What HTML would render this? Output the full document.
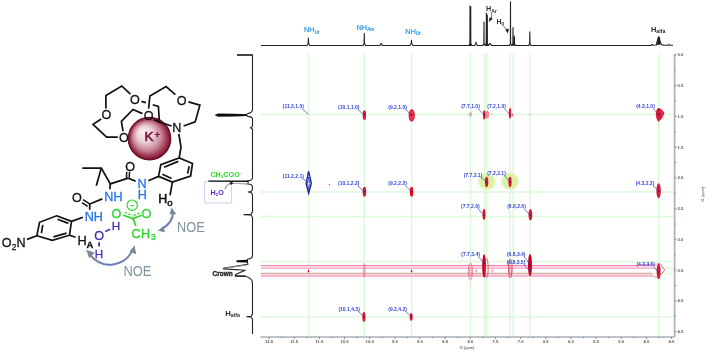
<!DOCTYPE html>
<html><head><meta charset="utf-8"><title>NOESY</title>
<style>
html,body{margin:0;padding:0;background:#fff;width:708px;height:350px;overflow:hidden}
svg{display:block}
text{font-family:"Liberation Sans", Arial, sans-serif}
</style></head><body>
<svg width="708" height="350" viewBox="0 0 708 350">
<defs>
<radialGradient id="kg" cx="0.5" cy="0.5" r="0.5" fx="0.33" fy="0.33">
<stop offset="0" stop-color="#faf2f3"/>
<stop offset="0.38" stop-color="#ecd0d8"/>
<stop offset="0.66" stop-color="#c9889c"/>
<stop offset="0.84" stop-color="#a4425c"/>
<stop offset="0.95" stop-color="#861c36"/>
<stop offset="1" stop-color="#6e0c24"/>
</radialGradient>
<radialGradient id="yg" cx="0.5" cy="0.5" r="0.5">
<stop offset="0" stop-color="#daf0a2"/>
<stop offset="0.8" stop-color="#dcf2a8"/>
<stop offset="1" stop-color="#e6f6c4"/>
</radialGradient>
</defs>
<rect width="708" height="350" fill="#fff"/>

<g stroke="#dcf9da" stroke-width="1.5" fill="none">
<line x1="308.6" y1="53.5" x2="308.6" y2="336.5"/>
<line x1="364.2" y1="53.5" x2="364.2" y2="336.5"/>
<line x1="411.6" y1="53.5" x2="411.6" y2="336.5"/>
<line x1="470.5" y1="53.5" x2="470.5" y2="336.5"/>
<line x1="484.5" y1="53.5" x2="484.5" y2="336.5"/>
<line x1="486.8" y1="53.5" x2="486.8" y2="336.5"/>
<line x1="509.9" y1="53.5" x2="509.9" y2="336.5"/>
<line x1="513.2" y1="53.5" x2="513.2" y2="336.5"/>
<line x1="530.0" y1="53.5" x2="530.0" y2="336.5"/>
<line x1="658.8" y1="53.5" x2="658.8" y2="336.5"/>
<line x1="260.5" y1="114.5" x2="673" y2="114.5"/>
<line x1="260.5" y1="192.0" x2="673" y2="192.0"/>
<line x1="260.5" y1="216.6" x2="673" y2="216.6"/>
<line x1="260.5" y1="261.4" x2="673" y2="261.4"/>
<line x1="260.5" y1="268.0" x2="673" y2="268.0"/>
<line x1="260.5" y1="273.6" x2="673" y2="273.6"/>
<line x1="260.5" y1="316.9" x2="673" y2="316.9"/>
</g>
<circle cx="486.8" cy="181.6" r="8.6" fill="url(#yg)"/>
<circle cx="510" cy="181.3" r="8.8" fill="url(#yg)"/>
<rect x="261" y="265.2" width="392" height="3.4" fill="#fbd6e4"/>
<rect x="261" y="273.2" width="392" height="3.1" fill="#fad8e4"/>
<g fill="none">
<path d="M261 265.5 H638 L641 264.7 H653 L656.5 265.5" stroke="#f784b0" stroke-width="1.2"/>
<path d="M656.5 264 L660 263.6 L664.7 270 L660 275.5 L657 276" stroke="#f05888" stroke-width="0.9"/>
<path d="M261 268.3 H652 L656 269" stroke="#f4a6c4" stroke-width="0.9"/>
<path d="M261 273.3 H652" stroke="#cfa09c" stroke-width="1"/>
<path d="M261 276.0 H652 L657 277.4" stroke="#f48cb2" stroke-width="1"/>
</g>
<path d="M261 45.5 L306.9 45.5 L308.1 43.5 L308.4 38.0 L308.7 43.5 L309.9 45.5 L363.0 45.5 L364.1 43.5 L364.3 33.5 L364.5 43.5 L365.6 45.5 L380.0 45.5 L381.0 43.5 L381.2 43.6 L381.4 43.5 L382.4 45.5 L410.0 45.5 L411.2 43.5 L411.5 40.3 L411.8 43.5 L413.0 45.5 L468.9 45.5 L469.9 43.5 L470.0 6.0 L470.1 43.5 L471.1 45.5 L469.6 45.5 L470.6 43.5 L470.7 6.5 L470.8 43.5 L471.8 45.5 L474.6 45.5 L475.8 43.5 L476.0 42.0 L476.2 43.5 L477.4 45.5 L482.9 45.5 L483.9 43.5 L484.0 22.0 L484.1 43.5 L485.1 45.5 L485.3 45.5 L486.2 43.5 L486.4 13.0 L486.5 43.5 L487.5 45.5 L486.2 45.5 L487.2 43.5 L487.3 15.0 L487.4 43.5 L488.4 45.5 L488.6 45.5 L489.8 43.5 L490.0 43.5 L490.2 43.5 L491.4 45.5 L509.4 45.5 L510.4 43.5 L510.5 1.7 L510.6 43.5 L511.6 45.5 L511.9 45.5 L512.9 43.5 L513.0 27.5 L513.1 43.5 L514.1 45.5 L513.3 45.5 L514.2 43.5 L514.4 36.0 L514.5 43.5 L515.5 45.5 L528.6 45.5 L529.6 43.5 L529.8 31.7 L530.0 43.5 L531.0 45.5 L651.2 45.4 L652.2 44.3 L653.1 45.2 L656.3 45.0 L657.4 40.5 L658.4 36.8 L659.3 37.2 L660.2 41.8 L661.4 44.6 L663.5 45.3 L668 45.2 L669.2 44.6 L670.2 45.3 L673 45.3" fill="none" stroke="#1e2024" stroke-width="1.1" stroke-linejoin="round"/>
<path d="M657.2 41.5 L658.4 36.8 L659.3 37.2 L660.0 41.5 L660.6 44.8 L657.0 44.8 Z" fill="#1e2024"/>
<rect x="204.5" y="181.2" width="26.9" height="21.8" fill="none" stroke="#c4c8e8" stroke-width="0.8"/>
<path d="M237.0 55.0 L252.5 55.0 L252.5 109 Q252.5 113 247.7 113.6 L246 114.6 L247.7 116.4 Q252.5 116.8 252.5 119 L252.5 126.4 L251.0 127.6 L250.3 127.8 L251.0 128.0 L252.5 129.2 L252.5 177.5 Q252.5 180.6 248 180.8 L248 181.2 L248 184 Q252.5 184.2 252.5 187 L252.5 189.5 L251.0 191.6 L248.2 192 L251.0 192.4 L252.5 194.5 L252.5 211.9 L251.0 214.2 L244.0 214.6 L251.0 215.0 L252.5 217.3 L252.5 255.8 Q252.5 258.8 247.4 259.3 L247.4 262.4 L248 264.3 L223.2 268.3 L223.4 268.9 L245.3 270.2 L235.5 274.5 L235.3 276.0 L245.5 276.3 Q250.6 277.8 252.2 281 L252.5 286 L252.5 314.2 L251.0 316.2 L247 316.6 L251.0 317.0 L252.5 319.0 L252.5 334" fill="none" stroke="#1e2024" stroke-width="1.1" stroke-linejoin="round"/>
<path d="M237 54.2 L252.6 54.3 L252.6 55.8 L237 55.7 Z" fill="#2a2c34"/>
<path d="M214.5 115.1 L218 113.6 L234 113.8 L247 114.3 L247 115.9 L234 116.4 L218 116.7 Z" fill="#0e0e10"/>
<path d="M208.3 180.4 L248.5 180.5 L248.5 181.9 L208.3 181.8 Z" fill="#141416"/>
<path d="M233 183.2 L248.3 183.6 L248.3 184.4 L233 183.8 Z" fill="#777c88"/>
<path d="M236.5 260.2 L247.5 259.8 L247.5 262.4 L236.5 262.2 Z" fill="#0e0e10"/>
<path d="M235.1 275.3 L245.5 275.6 L245.5 276.8 L235.1 276.6 Z" fill="#141416"/>
<path d="M223.2 267.9 L247 264.6 L247 265.6 L223.2 268.8 Z" fill="#8a909c"/>
<g stroke="#aab1bb" fill="none"><line x1="674.6" y1="53.7" x2="674.6" y2="337.0" stroke-width="1.7"/>
<line x1="260.5" y1="337.0" x2="674.6" y2="337.0" stroke-width="1.6"/></g>
<g stroke="#666" stroke-width="0.7">
<line x1="674.6" y1="54.9" x2="676.6" y2="54.9"/>
<line x1="674.6" y1="70.3" x2="675.8000000000001" y2="70.3"/>
<line x1="674.6" y1="85.7" x2="676.6" y2="85.7"/>
<line x1="674.6" y1="101.0" x2="675.8000000000001" y2="101.0"/>
<line x1="674.6" y1="116.4" x2="676.6" y2="116.4"/>
<line x1="674.6" y1="131.8" x2="675.8000000000001" y2="131.8"/>
<line x1="674.6" y1="147.2" x2="676.6" y2="147.2"/>
<line x1="674.6" y1="162.5" x2="675.8000000000001" y2="162.5"/>
<line x1="674.6" y1="177.9" x2="676.6" y2="177.9"/>
<line x1="674.6" y1="193.3" x2="675.8000000000001" y2="193.3"/>
<line x1="674.6" y1="208.7" x2="676.6" y2="208.7"/>
<line x1="674.6" y1="224.0" x2="675.8000000000001" y2="224.0"/>
<line x1="674.6" y1="239.4" x2="676.6" y2="239.4"/>
<line x1="674.6" y1="254.8" x2="675.8000000000001" y2="254.8"/>
<line x1="674.6" y1="270.1" x2="676.6" y2="270.1"/>
<line x1="674.6" y1="285.5" x2="675.8000000000001" y2="285.5"/>
<line x1="674.6" y1="300.9" x2="676.6" y2="300.9"/>
<line x1="674.6" y1="316.3" x2="675.8000000000001" y2="316.3"/>
<line x1="674.6" y1="331.6" x2="676.6" y2="331.6"/>
<line x1="269.1" y1="337.0" x2="269.1" y2="339.0"/>
<line x1="281.7" y1="337.0" x2="281.7" y2="338.2"/>
<line x1="294.2" y1="337.0" x2="294.2" y2="339.0"/>
<line x1="306.8" y1="337.0" x2="306.8" y2="338.2"/>
<line x1="319.4" y1="337.0" x2="319.4" y2="339.0"/>
<line x1="332.0" y1="337.0" x2="332.0" y2="338.2"/>
<line x1="344.6" y1="337.0" x2="344.6" y2="339.0"/>
<line x1="357.1" y1="337.0" x2="357.1" y2="338.2"/>
<line x1="369.7" y1="337.0" x2="369.7" y2="339.0"/>
<line x1="382.3" y1="337.0" x2="382.3" y2="338.2"/>
<line x1="394.9" y1="337.0" x2="394.9" y2="339.0"/>
<line x1="407.4" y1="337.0" x2="407.4" y2="338.2"/>
<line x1="420.0" y1="337.0" x2="420.0" y2="339.0"/>
<line x1="432.6" y1="337.0" x2="432.6" y2="338.2"/>
<line x1="445.2" y1="337.0" x2="445.2" y2="339.0"/>
<line x1="457.7" y1="337.0" x2="457.7" y2="338.2"/>
<line x1="470.3" y1="337.0" x2="470.3" y2="339.0"/>
<line x1="482.9" y1="337.0" x2="482.9" y2="338.2"/>
<line x1="495.4" y1="337.0" x2="495.4" y2="339.0"/>
<line x1="508.0" y1="337.0" x2="508.0" y2="338.2"/>
<line x1="520.6" y1="337.0" x2="520.6" y2="339.0"/>
<line x1="533.2" y1="337.0" x2="533.2" y2="338.2"/>
<line x1="545.8" y1="337.0" x2="545.8" y2="339.0"/>
<line x1="558.3" y1="337.0" x2="558.3" y2="338.2"/>
<line x1="570.9" y1="337.0" x2="570.9" y2="339.0"/>
<line x1="583.5" y1="337.0" x2="583.5" y2="338.2"/>
<line x1="596.0" y1="337.0" x2="596.0" y2="339.0"/>
<line x1="608.6" y1="337.0" x2="608.6" y2="338.2"/>
<line x1="621.2" y1="337.0" x2="621.2" y2="339.0"/>
<line x1="633.8" y1="337.0" x2="633.8" y2="338.2"/>
<line x1="646.4" y1="337.0" x2="646.4" y2="339.0"/>
<line x1="658.9" y1="337.0" x2="658.9" y2="338.2"/>
<line x1="671.5" y1="337.0" x2="671.5" y2="339.0"/>
</g>
<g font-size="4.2" fill="#555" font-weight="bold">
<text x="677.4" y="56.4">0.0</text>
<text x="677.4" y="87.2">0.5</text>
<text x="677.4" y="117.9">1.0</text>
<text x="677.4" y="148.7">1.5</text>
<text x="677.4" y="179.4">2.0</text>
<text x="677.4" y="210.2">2.5</text>
<text x="677.4" y="240.9">3.0</text>
<text x="677.4" y="271.6">3.5</text>
<text x="677.4" y="302.4">4.0</text>
<text x="677.4" y="333.1">4.5</text>
<text x="269.1" y="343.2" text-anchor="middle">12.0</text>
<text x="294.2" y="343.2" text-anchor="middle">11.5</text>
<text x="319.4" y="343.2" text-anchor="middle">11.0</text>
<text x="344.6" y="343.2" text-anchor="middle">10.5</text>
<text x="369.7" y="343.2" text-anchor="middle">10.0</text>
<text x="394.9" y="343.2" text-anchor="middle">9.5</text>
<text x="420.0" y="343.2" text-anchor="middle">9.0</text>
<text x="445.2" y="343.2" text-anchor="middle">8.5</text>
<text x="470.3" y="343.2" text-anchor="middle">8.0</text>
<text x="495.4" y="343.2" text-anchor="middle">7.5</text>
<text x="520.6" y="343.2" text-anchor="middle">7.0</text>
<text x="545.8" y="343.2" text-anchor="middle">6.5</text>
<text x="570.9" y="343.2" text-anchor="middle">6.0</text>
<text x="596.0" y="343.2" text-anchor="middle">5.5</text>
<text x="621.2" y="343.2" text-anchor="middle">5.0</text>
<text x="646.4" y="343.2" text-anchor="middle">4.5</text>
<text x="671.5" y="343.2" text-anchor="middle">4.0</text>
</g>
<text x="467" y="348.5" font-size="4" fill="#444" text-anchor="middle">f2 (ppm)</text>
<text transform="translate(703.5 194) rotate(-90)" font-size="4" fill="#444" text-anchor="middle">f1 (ppm)</text>
<ellipse cx="364.4" cy="115.2" rx="1.7" ry="4.9" fill="#e0142c" stroke="none" stroke-width="0.6" opacity="1"/>
<circle cx="364.3" cy="115.0" r="0.7" fill="#1a1a7a"/>
<ellipse cx="411.7" cy="115.4" rx="2.6" ry="5.9" fill="#f23048" stroke="#e0102a" stroke-width="1.0" opacity="1"/>
<circle cx="411.5" cy="115.0" r="0.9" fill="#1a1a7a"/>
<ellipse cx="470.5" cy="114.5" rx="0.9" ry="2.0" fill="none" stroke="#e04060" stroke-width="0.6" opacity="1"/>
<ellipse cx="484.3" cy="114.9" rx="1.3" ry="4.6" fill="#e0142c" stroke="none" stroke-width="0.6" opacity="1"/>
<circle cx="484.2" cy="114.9" r="0.7" fill="#1a1a7a"/>
<ellipse cx="487.3" cy="114.6" rx="1.3" ry="3.5" fill="#f590a8" stroke="#ec5070" stroke-width="0.6" opacity="1"/>
<ellipse cx="491.7" cy="114.5" rx="0.5" ry="0.5" fill="#e06080" stroke="none" stroke-width="0.6" opacity="1"/>
<ellipse cx="510.0" cy="113.3" rx="1.2" ry="5.3" fill="#e0142c" stroke="none" stroke-width="0.6" opacity="1"/>
<circle cx="510.0" cy="114.6" r="0.7" fill="#1a1a7a"/>
<ellipse cx="512.4" cy="114.9" rx="0.9" ry="1.4" fill="#f06080" stroke="none" stroke-width="0.6" opacity="1"/>
<ellipse cx="530.0" cy="114.5" rx="0.6" ry="0.6" fill="#e06080" stroke="none" stroke-width="0.6" opacity="1"/>
<path d="M658.5 108 Q662 108.5 664.5 113.5 Q663 118 658.5 122 Q655.5 118 655.8 113 Q656.5 108.5 658.5 108 Z" fill="#d81830"/>
<path d="M660.5 111 Q663 113 662.5 116" stroke="#f08098" stroke-width="0.6" fill="none"/>
<circle cx="658.8" cy="114.5" r="0.7" fill="#1a1a7a"/>
<path d="M308.6 171.2 L311.4 183.5 L308.6 193.3 L306.1 183.5 Z" fill="none" stroke="#1a1ea0" stroke-width="1.3"/>
<path d="M308.7 177 L309.9 183.5 L308.7 189.5 L307.5 183.5 Z" fill="none" stroke="#2a30b0" stroke-width="0.8"/>
<circle cx="329.4" cy="184.6" r="0.6" fill="#2a3ab0"/>
<ellipse cx="364.4" cy="191.8" rx="1.8" ry="5.0" fill="#e0142c" stroke="none" stroke-width="0.6" opacity="1"/>
<circle cx="364.4" cy="191.8" r="0.7" fill="#1a1a7a"/>
<ellipse cx="411.6" cy="191.8" rx="1.8" ry="5.0" fill="#e0142c" stroke="none" stroke-width="0.6" opacity="1"/>
<circle cx="411.6" cy="191.8" r="0.7" fill="#1a1a7a"/>
<ellipse cx="486.6" cy="182.0" rx="1.7" ry="5.2" fill="#e0142c" stroke="none" stroke-width="0.6" opacity="1"/>
<circle cx="486.6" cy="182.0" r="0.7" fill="#1a1a7a"/>
<ellipse cx="510.0" cy="182.0" rx="1.6" ry="5.2" fill="#e0142c" stroke="none" stroke-width="0.6" opacity="1"/>
<circle cx="510.0" cy="182.0" r="0.7" fill="#1a1a7a"/>
<ellipse cx="658.6" cy="190.8" rx="2.2" ry="7.5" fill="#d81830" stroke="none" stroke-width="0.6" opacity="1"/>
<circle cx="658.6" cy="190.5" r="0.7" fill="#1a1a7a"/>
<ellipse cx="484.0" cy="214.5" rx="1.5" ry="5.4" fill="#e0142c" stroke="none" stroke-width="0.6" opacity="1"/>
<circle cx="484.0" cy="215.4" r="0.7" fill="#1a1a7a"/>
<ellipse cx="530.4" cy="214.7" rx="1.9" ry="5.7" fill="#e0142c" stroke="none" stroke-width="0.6" opacity="1"/>
<circle cx="530.3" cy="215.4" r="0.7" fill="#1a1a7a"/>
<ellipse cx="308.5" cy="271.0" rx="0.8" ry="1.6" fill="#d01040" stroke="none" stroke-width="0.6" opacity="1"/>
<ellipse cx="364.4" cy="270.5" rx="0.7" ry="6.8" fill="none" stroke="#e86890" stroke-width="0.8" opacity="1"/>
<ellipse cx="411.6" cy="271.0" rx="0.8" ry="1.5" fill="#d01848" stroke="none" stroke-width="0.6" opacity="1"/>
<ellipse cx="470.4" cy="271.5" rx="2.0" ry="8.5" fill="none" stroke="#e8607c" stroke-width="0.8" opacity="1"/>
<ellipse cx="470.4" cy="271.5" rx="1.0" ry="4.5" fill="none" stroke="#e8607c" stroke-width="0.6" opacity="1"/>
<ellipse cx="476.0" cy="271.0" rx="0.6" ry="1.5" fill="none" stroke="#e8607c" stroke-width="0.5" opacity="1"/>
<ellipse cx="484.1" cy="266.0" rx="1.9" ry="11.8" fill="#c80020" stroke="none" stroke-width="0.6" opacity="1"/>
<ellipse cx="486.6" cy="268.0" rx="1.6" ry="9.5" fill="none" stroke="#e04060" stroke-width="0.8" opacity="1"/>
<ellipse cx="492.5" cy="271.0" rx="0.8" ry="1.2" fill="none" stroke="#e8607c" stroke-width="0.5" opacity="1"/>
<ellipse cx="510.3" cy="268.5" rx="1.8" ry="9.5" fill="none" stroke="#e04060" stroke-width="0.9" opacity="1"/>
<ellipse cx="510.3" cy="270.0" rx="1.0" ry="5.0" fill="none" stroke="#e04060" stroke-width="0.6" opacity="1"/>
<ellipse cx="530.0" cy="265.2" rx="2.0" ry="11.2" fill="#c80020" stroke="none" stroke-width="0.6" opacity="1"/>
<ellipse cx="658.6" cy="271.5" rx="2.0" ry="7.8" fill="#d81830" stroke="none" stroke-width="0.6" opacity="1"/>
<circle cx="484.1" cy="263.5" r="0.7" fill="#1a1a7a"/>
<circle cx="530.0" cy="264.8" r="0.7" fill="#1a1a7a"/>
<circle cx="530.0" cy="271.2" r="0.7" fill="#1a1a7a"/>
<circle cx="658.6" cy="272.0" r="0.7" fill="#1a1a7a"/>
<ellipse cx="363.9" cy="316.9" rx="1.6" ry="4.8" fill="#e0142c" stroke="none" stroke-width="0.6" opacity="1"/>
<circle cx="363.9" cy="316.9" r="0.7" fill="#1a1a7a"/>
<ellipse cx="411.2" cy="316.9" rx="1.5" ry="3.8" fill="#e0142c" stroke="none" stroke-width="0.6" opacity="1"/>
<circle cx="411.2" cy="316.9" r="0.7" fill="#1a1a7a"/>
<g font-size="5" font-weight="bold" fill="#3347d6" text-anchor="middle">
<text x="293.3" y="108.3">(11.2,1.0)</text>
<text x="348.8" y="108.8">(10.1,1.0)</text>
<text x="397.6" y="108.8">(9.2,1.0)</text>
<text x="470.5" y="108.2">(7.7,1.0)</text>
<text x="496.6" y="108.3">(7.2,1.0)</text>
<text x="645.5" y="108.3">(4.3,1.0)</text>
<text x="293.3" y="177.8">(11.2,2.1)</text>
<text x="348.7" y="185.2">(10.1,2.2)</text>
<text x="397.6" y="185.2">(9.2,2.2)</text>
<text x="473.0" y="176.8">(7.7,2.1)</text>
<text x="496.5" y="174.8">(7.2,2.1)</text>
<text x="645.0" y="185.2">(4.3,2.2)</text>
<text x="470.3" y="208.2">(7.7,2.6)</text>
<text x="516.5" y="208.2">(6.8,2.6)</text>
<text x="470.6" y="256.1">(7.7,3.4)</text>
<text x="516.2" y="256.1">(6.8,3.4)</text>
<text x="516.0" y="264.2">(6.8,3.5)</text>
<text x="645.7" y="266.1">(4.3,3.5)</text>
<text x="349.1" y="310.5">(10.1,4.3)</text>
<text x="397.6" y="310.5">(9.2,4.2)</text>
</g>
<g stroke="#2a3cb0" stroke-width="0.65">
<line x1="302.3" y1="109.0" x2="308.6" y2="114.5"/>
<line x1="357.8" y1="109.5" x2="364.3" y2="115.0"/>
<line x1="405.6" y1="109.5" x2="411.5" y2="115.0"/>
<line x1="478.4" y1="108.9" x2="484.2" y2="114.9"/>
<line x1="504.6" y1="109.0" x2="510.0" y2="114.6"/>
<line x1="653.5" y1="109.0" x2="658.8" y2="114.5"/>
<line x1="302.3" y1="178.5" x2="308.6" y2="182.5"/>
<line x1="357.7" y1="185.9" x2="364.4" y2="191.8"/>
<line x1="405.6" y1="185.9" x2="411.6" y2="191.8"/>
<line x1="480.9" y1="177.5" x2="486.6" y2="182.0"/>
<line x1="504.4" y1="175.5" x2="510.0" y2="182.0"/>
<line x1="653.0" y1="185.9" x2="658.6" y2="190.5"/>
<line x1="478.2" y1="208.9" x2="484.0" y2="215.4"/>
<line x1="524.5" y1="208.9" x2="530.3" y2="215.4"/>
<line x1="478.6" y1="256.8" x2="484.1" y2="263.5"/>
<line x1="524.2" y1="256.8" x2="530.0" y2="264.8"/>
<line x1="524.0" y1="264.9" x2="530.0" y2="271.2"/>
<line x1="653.7" y1="266.8" x2="658.6" y2="272.0"/>
<line x1="358.1" y1="311.2" x2="363.9" y2="316.9"/>
<line x1="405.6" y1="311.2" x2="411.2" y2="316.9"/>
</g>
<g fill="#3a9ae0" stroke="#3a9ae0" stroke-width="0.22">
<text x="304" y="31.9" font-size="7.4">NH<tspan font-size="4.6" dy="1.6">Ur</tspan></text>
<text x="356.5" y="29.5" font-size="7.4">NH<tspan font-size="4.6" dy="1.6">Am</tspan></text>
<text x="405.2" y="33.7" font-size="7.4">NH<tspan font-size="4.6" dy="1.6">Ur</tspan></text>
</g>
<g fill="#2a2a2a" font-weight="bold">
<text x="486" y="11.4" font-size="7.2">H<tspan font-size="5" dy="1.2">Ar</tspan></text>
<text x="496.4" y="24.2" font-size="6.8">H<tspan font-size="5" dy="1.0">o</tspan></text>
<text x="651" y="32" font-size="7.4">H<tspan font-size="5.2" dy="1.4">alfa</tspan></text>
<text transform="translate(212.5 276.3) scale(1 1.1)" font-size="7.2" stroke="#1a1a1a" stroke-width="0.35" textLength="20.2" lengthAdjust="spacingAndGlyphs">Crown</text>
<text x="225.2" y="315.8" font-size="7.8">H<tspan font-size="5.2" dy="1.2">alfa</tspan></text>
</g>
<path d="M491 12.8 Q492.6 15.5 491 18.5" fill="none" stroke="#444" stroke-width="0.8"/>
<path d="M488.7 22 L489.8 17.2 L492.8 18.8 Z" fill="#1a1a1a"/>
<path d="M502.3 25 Q505 27 506.6 29.6" fill="none" stroke="#445" stroke-width="0.8"/>
<path d="M507.8 33.4 L505.2 29.4 L509 28.8 Z" fill="#1a1a1a"/>
<text x="210.4" y="177.4" font-size="7.2" font-weight="bold" fill="#30dc30" textLength="29.4" lengthAdjust="spacingAndGlyphs">CH<tspan font-size="4.4" dy="1">3</tspan><tspan dy="-1">COO</tspan></text>
<text x="240.2" y="174.2" font-size="4.4" font-weight="bold" fill="#30dc30">-</text>
<text x="210.5" y="194.6" font-size="7.2" font-weight="bold" fill="#5a2ac8">H<tspan font-size="4.4" dy="1">2</tspan><tspan dy="-1">O</tspan></text>
<path d="M225 189.3 Q226.5 184.2 230.5 183.4" fill="none" stroke="#333" stroke-width="0.7"/>
<path d="M234 183.1 L230 181.4 L230.3 185 Z" fill="#222"/>
<circle cx="149.5" cy="138.6" r="21.3" fill="url(#kg)" stroke="#680a22" stroke-width="1.1"/>
<text x="149" y="140.9" font-size="13.6" fill="#7a1030" stroke="#7a1030" stroke-width="0.6" text-anchor="middle">K</text>
<text x="157.2" y="138.2" font-size="9.5" fill="#7a1030" stroke="#7a1030" stroke-width="0.5" text-anchor="middle">+</text>
<path d="M105.9 108.4 L105.9 95.4 L121.8 86.0 L130.4 94.2" fill="none" stroke="#111" stroke-width="1.7" stroke-linejoin="miter" stroke-linecap="butt" />
<text x="135.0" y="103.93" font-size="12.6" fill="#111" stroke="#111" stroke-width="0.3" text-anchor="middle">O</text>
<path d="M141.4 101.4 L146.0 102.6" fill="none" stroke="#111" stroke-width="1.7" stroke-linejoin="miter" stroke-linecap="butt" />
<text x="106.3" y="118.53" font-size="12.6" fill="#111" stroke="#111" stroke-width="0.3" text-anchor="middle">O</text>
<path d="M101.2 119.0 L93.0 124.3 L106.6 137.2 L117.8 137.2" fill="none" stroke="#111" stroke-width="1.7" stroke-linejoin="miter" stroke-linecap="butt" />
<text x="124.0" y="142.13" font-size="12.6" fill="#111" stroke="#111" stroke-width="0.3" text-anchor="middle">O</text>
<path d="M123.0 131.2 L121.4 121.4 L133.0 109.4 L142.4 113.6" fill="none" stroke="#111" stroke-width="1.7" stroke-linejoin="miter" stroke-linecap="butt" />
<text x="148.7" y="120.33" font-size="12.6" fill="#111" stroke="#111" stroke-width="0.3" text-anchor="middle">O</text>
<path d="M148.6 108.6 L149.9 96.0 L166.1 86.6 L175.4 94.6" fill="none" stroke="#111" stroke-width="1.7" stroke-linejoin="miter" stroke-linecap="butt" />
<text x="181.6" y="104.83" font-size="12.6" fill="#111" stroke="#111" stroke-width="0.3" text-anchor="middle">O</text>
<path d="M188.4 101.9 L199.9 105.2 L195.2 121.9 L183.6 126.0" fill="none" stroke="#111" stroke-width="1.7" stroke-linejoin="miter" stroke-linecap="butt" />
<path d="M152.7 104.7 L158.4 106.4 L159.4 122.0 L171.6 126.0" fill="none" stroke="#111" stroke-width="1.7" stroke-linejoin="miter" stroke-linecap="butt" />
<path d="M154.0 119.6 L159.4 122.0" fill="none" stroke="#111" stroke-width="1.7" stroke-linejoin="miter" stroke-linecap="butt" />
<text x="176.9" y="132.13" font-size="12.6" fill="#111" stroke="#111" stroke-width="0.3" text-anchor="middle">N</text>
<path d="M178.8 134.0 L181.0 147.0 L179.2 158.0" fill="none" stroke="#111" stroke-width="1.7" stroke-linejoin="miter" stroke-linecap="butt" />
<path d="M179.2 158.0 L192.5 163.5 L190.6 176.0 L172.3 182.0 L158.6 176.4 L160.8 164.6 L179.2 158.0 L192.5 163.5" fill="none" stroke="#111" stroke-width="1.7" stroke-linejoin="miter" stroke-linecap="butt" />
<path d="M164.0 167.2 L178.3 161.4" fill="none" stroke="#111" stroke-width="1.7" stroke-linejoin="miter" stroke-linecap="butt" />
<path d="M189.2 166.2 L187.6 173.6" fill="none" stroke="#111" stroke-width="1.7" stroke-linejoin="miter" stroke-linecap="butt" />
<path d="M162.4 174.2 L171.6 178.4" fill="none" stroke="#111" stroke-width="1.7" stroke-linejoin="miter" stroke-linecap="butt" />
<path d="M158.6 176.4 L148.3 180.7" fill="none" stroke="#111" stroke-width="1.7" stroke-linejoin="miter" stroke-linecap="butt" />
<text x="142.0" y="188.13" font-size="12.6" fill="#2276ea" stroke="#2276ea" stroke-width="0.3" text-anchor="middle">N</text>
<text x="142.2" y="198.73" font-size="12.6" fill="#2276ea" stroke="#2276ea" stroke-width="0.3" text-anchor="middle">H</text>
<path d="M128.2 178.1 L135.7 181.3" fill="none" stroke="#111" stroke-width="1.7" stroke-linejoin="miter" stroke-linecap="butt" />
<text x="130.1" y="170.53" font-size="12.6" fill="#111" stroke="#111" stroke-width="0.3" text-anchor="middle">O</text>
<path d="M126.5 178.0 L126.7 171.8" fill="none" stroke="#111" stroke-width="1.5" stroke-linejoin="miter" stroke-linecap="butt" />
<path d="M129.3 177.6 L129.5 171.8" fill="none" stroke="#111" stroke-width="1.5" stroke-linejoin="miter" stroke-linecap="butt" />
<path d="M128.2 178.1 L110.3 183.9 L101.3 168.1 L82.3 168.1" fill="none" stroke="#111" stroke-width="1.7" stroke-linejoin="miter" stroke-linecap="butt" />
<path d="M101.3 168.1 L96.3 185.7" fill="none" stroke="#111" stroke-width="1.7" stroke-linejoin="miter" stroke-linecap="butt" />
<path d="M110.3 183.9 L109.9 189.2" fill="none" stroke="#111" stroke-width="1.7" stroke-linejoin="miter" stroke-linecap="butt" />
<text x="113.4" y="201.23" font-size="12.6" fill="#2276ea" stroke="#2276ea" stroke-width="0.3" text-anchor="middle">NH</text>
<path d="M102.3 198.9 L89.7 204.0 L89.7 209.8" fill="none" stroke="#111" stroke-width="1.7" stroke-linejoin="miter" stroke-linecap="butt" />
<text x="76.9" y="202.23" font-size="12.6" fill="#111" stroke="#111" stroke-width="0.3" text-anchor="middle">O</text>
<path d="M83.0 199.6 L89.6 203.9" fill="none" stroke="#111" stroke-width="1.5" stroke-linejoin="miter" stroke-linecap="butt" />
<path d="M82.0 202.6 L87.6 206.3" fill="none" stroke="#111" stroke-width="1.5" stroke-linejoin="miter" stroke-linecap="butt" />
<text x="93.8" y="220.73" font-size="12.6" fill="#2276ea" stroke="#2276ea" stroke-width="0.3" text-anchor="middle">NH</text>
<path d="M83.0 217.3 L71.5 221.4" fill="none" stroke="#111" stroke-width="1.7" stroke-linejoin="miter" stroke-linecap="butt" />
<path d="M56.6 215.8 L71.5 221.4 L69.5 235.2 L52.3 240.3 L36.9 235.7 L39.5 222.3 L56.6 215.8 L71.5 221.4" fill="none" stroke="#111" stroke-width="1.7" stroke-linejoin="miter" stroke-linecap="butt" />
<path d="M42.8 224.8 L41.4 233.2" fill="none" stroke="#111" stroke-width="1.7" stroke-linejoin="miter" stroke-linecap="butt" />
<path d="M57.5 219.2 L68.4 223.4" fill="none" stroke="#111" stroke-width="1.7" stroke-linejoin="miter" stroke-linecap="butt" />
<path d="M53.4 236.9 L66.6 233.1" fill="none" stroke="#111" stroke-width="1.7" stroke-linejoin="miter" stroke-linecap="butt" />
<path d="M69.5 235.2 L75.6 237.2" fill="none" stroke="#111" stroke-width="1.7" stroke-linejoin="miter" stroke-linecap="butt" />
<path d="M36.9 235.7 L27.0 239.4" fill="none" stroke="#111" stroke-width="1.7" stroke-linejoin="miter" stroke-linecap="butt" />
<text x="6.6" y="246.53" font-size="12.6" fill="#111" stroke="#111" stroke-width="0.3" text-anchor="middle">O</text>
<text x="14.0" y="250.49" font-size="8.4" fill="#111" stroke="#111" stroke-width="0.3" text-anchor="middle">2</text>
<text x="21.0" y="246.53" font-size="12.6" fill="#111" stroke="#111" stroke-width="0.3" text-anchor="middle">N</text>
<text x="82.0" y="245.40" font-size="12.8" fill="#111" stroke="#111" stroke-width="0.3" text-anchor="middle">H</text>
<text x="89.8" y="248.3" font-size="9.4" font-weight="bold" fill="#111" stroke="#111" stroke-width="0.35" text-anchor="middle">A</text>
<text x="99.1" y="239.93" font-size="12.6" fill="#4b2bbd" stroke="#4b2bbd" stroke-width="0.3" text-anchor="middle">O</text>
<path d="M105.2 231.4 L110.2 229.3" fill="none" stroke="#4b2bbd" stroke-width="1.6" stroke-linejoin="miter" stroke-linecap="butt" />
<text x="115.9" y="230.49" font-size="11.6" fill="#4b2bbd" stroke="#4b2bbd" stroke-width="0.3" text-anchor="middle">H</text>
<path d="M99.1 242.2 L99.1 246.4" fill="none" stroke="#4b2bbd" stroke-width="1.8" stroke-linejoin="miter" stroke-linecap="butt" />
<text x="99.0" y="257.59" font-size="11.6" fill="#4b2bbd" stroke="#4b2bbd" stroke-width="0.3" text-anchor="middle">H</text>
<circle cx="132.2" cy="205.2" r="5.2" fill="none" stroke="#2ad42a" stroke-width="1.2"/>
<path d="M130.3 205.6 L134.1 205.6" fill="none" stroke="#2ad42a" stroke-width="1.0" stroke-linejoin="miter" stroke-linecap="butt" />
<text x="116.4" y="217.53" font-size="12.6" fill="#2ad42a" stroke="#2ad42a" stroke-width="0.3" text-anchor="middle">O</text>
<text x="146.3" y="217.53" font-size="12.6" fill="#2ad42a" stroke="#2ad42a" stroke-width="0.3" text-anchor="middle">O</text>
<path d="M123.2 215.2 L133.0 218.6 L141.6 215.2" fill="none" stroke="#2ad42a" stroke-width="1.6" stroke-linejoin="miter" stroke-linecap="butt" />
<path d="M124.8 212.4 L132.4 215.4" fill="none" stroke="#2ad42a" stroke-width="1.3" stroke-linejoin="miter" stroke-linecap="butt" stroke-dasharray="2.3 1.5"/>
<path d="M133.8 215.4 L141.2 212.4" fill="none" stroke="#2ad42a" stroke-width="1.3" stroke-linejoin="miter" stroke-linecap="butt" stroke-dasharray="2.3 1.5"/>
<path d="M133.0 218.6 L135.9 226.0" fill="none" stroke="#2ad42a" stroke-width="1.6" stroke-linejoin="miter" stroke-linecap="butt" />
<text x="136.1" y="237.93" font-size="12.6" fill="#2ad42a" stroke="#2ad42a" stroke-width="0.3" text-anchor="middle">C</text>
<text x="145.6" y="237.93" font-size="12.6" fill="#2ad42a" stroke="#2ad42a" stroke-width="0.3" text-anchor="middle">H</text>
<text x="153.4" y="240.29" font-size="8.4" fill="#2ad42a" stroke="#2ad42a" stroke-width="0.3" text-anchor="middle">3</text>
<text x="162.8" y="202.57" font-size="12.4" fill="#111" stroke="#111" stroke-width="0.55" text-anchor="middle">H</text>
<text x="170" y="205.8" font-size="9.6" fill="#111" stroke="#111" stroke-width="0.5" text-anchor="middle">o</text>
<path d="M170.0 195.4 L172.4 182.4" fill="none" stroke="#111" stroke-width="1.7" stroke-linejoin="miter" stroke-linecap="butt" />
<defs><linearGradient id="ng" x1="0" x2="1" y1="0" y2="0"><stop offset="0" stop-color="#7b8898"/><stop offset="0.5" stop-color="#6a78d0"/><stop offset="1" stop-color="#7b8898"/></linearGradient></defs>
<path d="M89.5 254.5 Q100 266.5 113 264.5 Q127 262.5 132.5 250" fill="none" stroke="url(#ng)" stroke-width="2"/>
<path d="M86.2 249.8 L94.6 252.8 L89.2 258.2 Z" fill="#7a8898"/>
<path d="M134.6 245.2 L136.2 254.2 L129.4 251.8 Z" fill="#7a8898"/>
<path d="M172.8 211 Q174 222 161 229.5" fill="none" stroke="url(#ng)" stroke-width="2"/>
<path d="M171.5 207.6 L176.4 214.2 L169.6 214.2 Z" fill="#7a8898"/>
<path d="M157.8 230.8 L163.4 226.2 L165 232.2 Z" fill="#7a8898"/>
<text transform="translate(137.4 276.1) scale(1 1.12)" font-size="12.9" fill="#7f939e" text-anchor="middle">NOE</text>
<text transform="translate(190.9 232.0) scale(1 1.12)" font-size="12.8" fill="#7f939e" text-anchor="middle">NOE</text>
</svg>
</body></html>
